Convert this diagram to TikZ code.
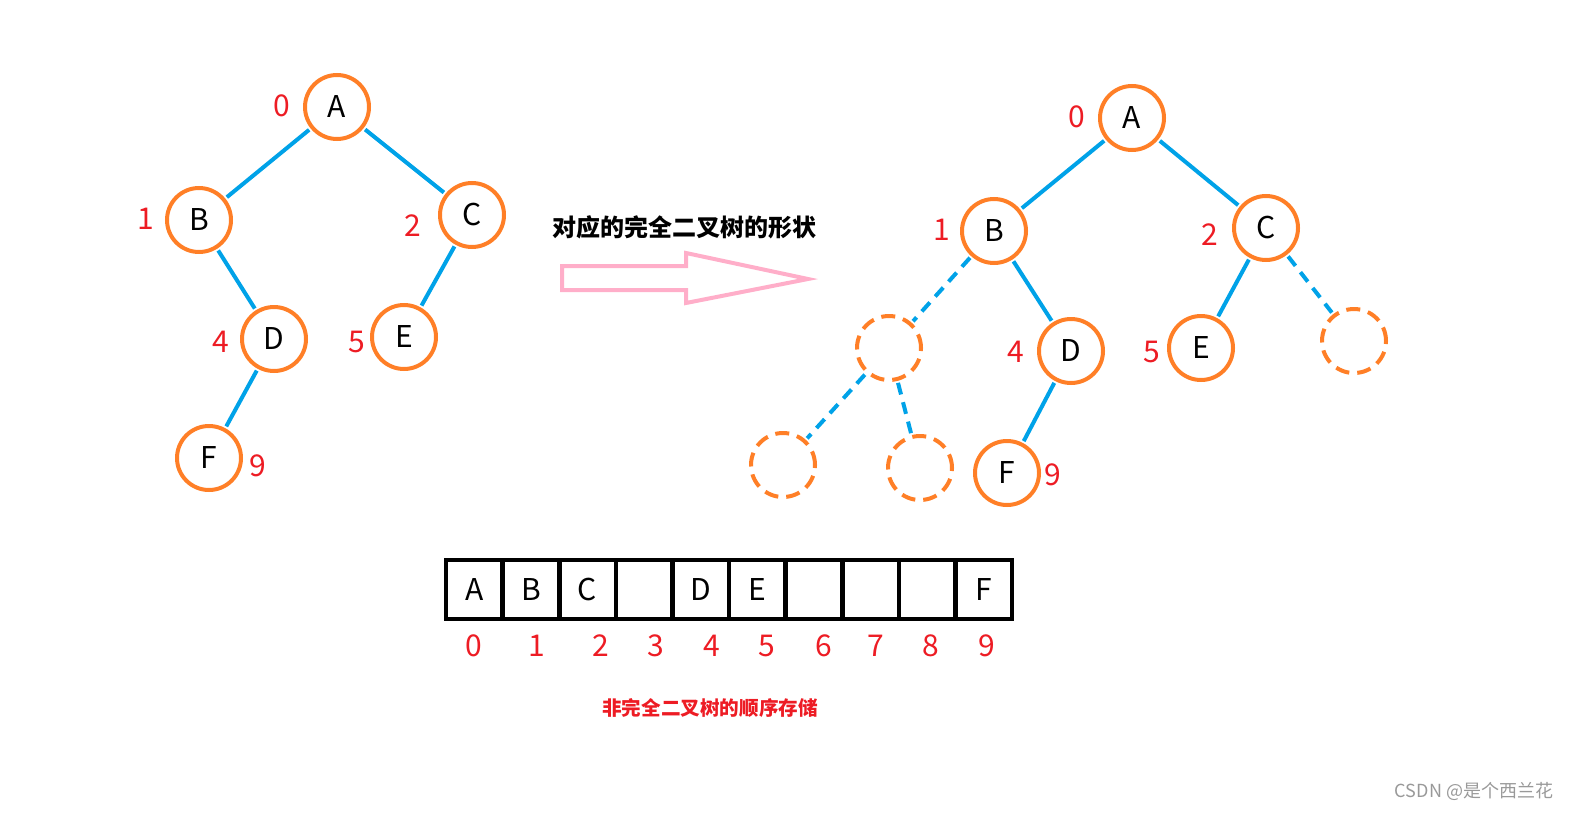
\documentclass[tikz,border=0pt]{standalone}
\usepackage{fontspec}
\setmainfont{Noto Sans CJK SC}
\usetikzlibrary{calc}

\definecolor{ringorange}{RGB}{255,127,39}
\definecolor{edgeblue}{RGB}{0,162,232}
\definecolor{idxred}{RGB}{237,28,36}
\definecolor{arrowpink}{RGB}{255,174,201}

\begin{document}
\begin{tikzpicture}[x=0.5pt, y=-0.5pt, font=\fontsize{15}{18}\selectfont,
    vertex/.style={circle, draw=ringorange, line width=2pt, minimum size=32pt, inner sep=0pt},
    ghost/.style={vertex, dash pattern=on 7pt off 4pt},
    edge/.style={edgeblue, line width=2pt, shorten <=1pt, shorten >=1pt},
    ghostedge/.style={edge, dash pattern=on 6pt off 4pt},
    idx/.style={text=idxred},
    cell/.style={draw=black, line width=2.3pt, minimum width=28.3pt, minimum height=29.5pt, inner sep=0pt}]
    \useasboundingbox (0,0) rectangle (1573,813);

    \node[vertex] (la) at (337,107) {A};
    \node[vertex] (lb) at (199,220) {B};
    \node[vertex] (lc) at (472,215) {C};
    \node[vertex] (ld) at (274,339) {D};
    \node[vertex] (le) at (404,337) {E};
    \node[vertex] (lf) at (209,458) {F};
    \node[idx] at (282,106) {0};
    \node[idx] at (146,219) {1};
    \node[idx] at (413,226) {2};
    \node[idx] at (221,342) {4};
    \node[idx] at (357,342) {5};
    \node[idx] at (258,466) {9};
    \draw[edge] (la) -- (lb);
    \draw[edge] (la) -- (lc);
    \draw[edge] (lb) -- (ld);
    \draw[edge] (lc) -- (le);
    \draw[edge] (ld) -- (lf);

    \node[font=\fontsize{12}{14}\selectfont\bfseries] (title) at (684,227) {对应的完全二叉树的形状};
    \draw[arrowpink, line width=2pt] (562,266) -- (686,266) -- (686,253) -- (808,279)
        -- (686,303) -- (686,290) -- (562,290) -- cycle;

    \node[vertex] (ra) at (1132,118) {A};
    \node[vertex] (rb) at (994,231) {B};
    \node[vertex] (rc) at (1266,228) {C};
    \node[ghost] (rg1) at (889,348) {};
    \node[vertex] (rd) at (1071,351) {D};
    \node[vertex] (re) at (1201,348) {E};
    \node[ghost] (rg2) at (1354,341) {};
    \node[ghost] (rg3) at (783,465) {};
    \node[ghost] (rg4) at (920,468) {};
    \node[vertex] (rf) at (1007,473) {F};
    \node[idx] at (1077,117) {0};
    \node[idx] at (942,230) {1};
    \node[idx] at (1210,235) {2};
    \node[idx] at (1016,352) {4};
    \node[idx] at (1152,352) {5};
    \node[idx] at (1053,475) {9};
    \draw[edge] (ra) -- (rb);
    \draw[edge] (ra) -- (rc);
    \draw[edge] (rb) -- (rd);
    \draw[edge] (rc) -- (re);
    \draw[edge] (rd) -- (rf);
    \draw[ghostedge] (rb) -- (rg1);
    \draw[ghostedge] (rc) -- (rg2);
    \draw[ghostedge] (rg1) -- (rg3);
    \draw[ghostedge] (rg1) -- (rg4);

    \foreach \i/\t in {0/A,1/B,2/C,3/,4/D,5/E,6/,7/,8/,9/F}
        \node[cell] (c\i) at ({474.3+56.6*\i},589.5) {\t};
    \foreach \i/\x in {0/474,1/537,2/601,3/656,4/712,5/767,6/824,7/876,8/931,9/987}
        \node[idx] (n\i) at (\x,646) {\i};

    \node[text=idxred, font=\fontsize{9.8}{12}\selectfont\bfseries] (caption) at (710,708) {非完全二叉树的顺序存储};
    \node[text=black!40, font=\fontsize{9}{11}\selectfont] (mark) at (1474,791) {CSDN @是个西兰花};
\end{tikzpicture}
\end{document}
